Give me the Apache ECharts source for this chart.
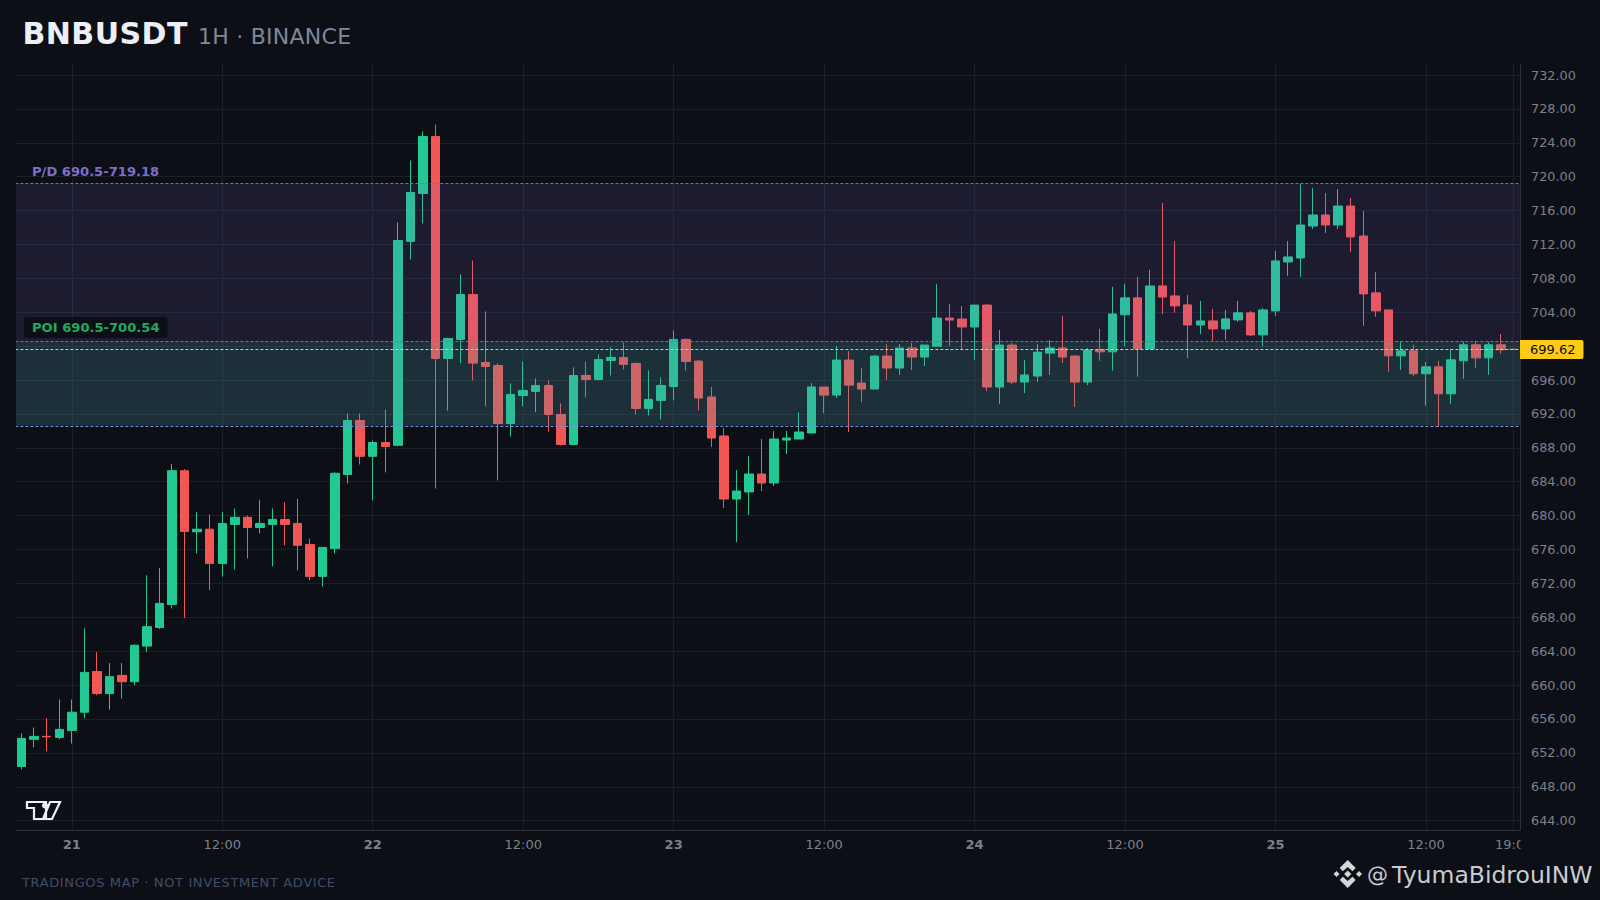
<!DOCTYPE html>
<html><head><meta charset="utf-8">
<style>
html,body{margin:0;padding:0;background:#0c0f16;}
#c{width:1600px;height:900px;}
text[fill="#eceff5"]{letter-spacing:0.45px;}
text[fill="#7f8899"]{letter-spacing:0.25px;}
text[fill="#434c68"]{letter-spacing:0.62px;}
</style>
<script src="https://cdn.jsdelivr.net/npm/echarts@6/dist/echarts.min.js"></script>
</head><body><div id="c"></div>
<script>
const opens=[650.4,653.6,653.95,653.83,654.65,656.8,661.6,659,661.15,660.4,664.6,666.8,669.5,685.3,678.1,678.4,674.36,678.96,679.8,678.6,678.96,679.55,679.08,676.6,672.83,676.13,684.86,691.23,687,688.63,688.3,712.36,718.02,724.75,698.55,700.8,706.1,698.08,697.72,690.88,694.18,694.65,695.36,691.94,688.4,696.54,696.07,698.31,698.67,697.96,692.65,693.6,695.24,700.8,698.24,694,689.4,681.96,682.8,684.91,683.85,688.92,689.04,689.75,695.18,694.23,698.36,695.65,694.94,698.83,697.42,699.78,698.72,700,703.32,703.2,702.26,704.85,695.18,700.13,695.77,696.47,699.18,699.78,698.83,695.77,699.57,699.33,703.7,705.7,699.68,707.11,705.93,704.87,702.5,702.98,702.04,703.1,703.93,701.33,704.16,709.94,710.41,714.18,715.48,714.3,716.54,713,706.29,704.28,698.86,699.45,696.74,697.56,694.38,698.27,700.16,698.62,700.16,699.63];
const closes=[653.7,653.95,653.9,654.77,656.8,661.5,659,661,660.4,664.7,666.9,669.64,685.3,678.14,678.4,674.36,679.08,679.8,678.6,679.08,679.55,678.96,676.5,672.83,676.25,685,691.23,687,688.63,688.16,712.47,718.14,724.75,698.55,700.91,706.1,698,697.6,690.88,694.3,694.77,695.36,691.94,688.4,696.54,696.07,698.43,698.67,697.84,692.65,693.71,695.36,700.8,698.2,693.88,689.16,681.96,682.9,684.91,683.85,689.04,689.16,689.87,695.18,694.23,698.36,695.4,694.94,698.83,697.42,699.78,698.72,700.13,703.32,703.08,702.26,704.85,695.18,700.13,695.77,696.6,699.3,699.78,698.72,695.77,699.54,699.33,703.8,705.7,699.68,707.11,705.8,704.75,702.5,702.98,702.04,703.22,703.93,701.33,704.28,710.06,710.53,714.3,715.48,714.3,716.54,712.89,706.17,704.16,698.86,699.45,696.74,697.56,694.38,698.39,700.16,698.62,700.16,699.57,699.62];
const lows=[650.05,652.65,652.2,653.6,653.1,656.1,658.8,657.1,658.4,660,663.9,666.6,669.05,667.9,675.54,671.2,672.8,673.65,674.95,677.9,674,676.5,673.54,672.35,671.65,675.54,683.8,686.04,681.8,685.1,688.16,710.23,714.48,683.2,692.4,698,695.95,692.9,684.15,689.34,692.9,692.2,689.93,688.28,688.28,693.95,695.95,696.54,697.25,691.94,691.82,691.35,693.6,697.13,692.42,688.1,680.9,676.88,680.07,682.9,683.5,687.27,689.04,689.75,692.1,693.88,689.87,693.4,694.94,696,696.6,697.18,697.65,700,700,699.66,698.36,694.7,693.17,695.53,694.47,695.77,696.6,698,692.82,695.4,698.27,697.1,700,696.38,699.68,703.8,703.93,698.6,701.45,700.63,700.75,702.87,701.2,700,703.58,708.3,708.17,713.83,713.36,713.83,711.12,702.4,703.46,696.97,697.2,696.5,692.97,690.5,693.2,696.15,697.45,696.62,699.1,699.55];
const highs=[654.3,655,656.1,658.3,658.3,666.7,663.9,662.6,662.6,664.8,672.95,673.8,686.1,685.5,680.4,680.14,680.4,680.85,680.03,681.87,680.85,681.56,682,677.3,676.25,685.1,692.06,692.06,688.87,692.53,714.6,721.92,725.34,726.16,701,708.46,710.1,704.1,697.96,695.6,698.2,696.2,695.95,693.24,697.5,698.2,699,699.85,700.44,698.08,697.13,696.3,701.85,700.9,698.3,695.18,690.34,685.38,687.03,689.04,690,690,692.2,695.65,695.18,700,699.42,697.42,698.95,700.25,700.25,700.37,700.13,707.33,704.97,704.73,704.85,704.97,701.9,700.37,698.36,700.25,700.72,703.55,698.95,699.78,702.04,707,707.35,708.17,709,716.9,712.4,706.05,705.34,704.4,704.28,705.34,704.16,704.5,711.24,712.4,719.14,718.66,718.07,718.55,717.49,715.95,708.76,704.28,700.51,700.16,698.15,698.27,699.68,700.51,700.63,700.51,701.45,699.65];
const tickLabels={4:'21',16:'12:00',28:'22',40:'12:00',52:'23',64:'12:00',76:'24',88:'12:00',100:'25',112:'12:00',119:'19:00'};
const categories=opens.map((_,i)=>String(i));
const candles=opens.map((o,i)=>[o,closes[i],lows[i],highs[i]]);
const pdZone=[690.6,719.18], poiZone=[690.6,700.54], lastPrice=699.62;
const BG='#0c0f16',UP='#22c993',DOWN='#f35653',GRID='#1b1f28',AXIS='#2c303a',TXT='#7b818d';
const line=(v,c,extra)=>Object.assign({yAxis:v,lineStyle:{color:c,width:1,type:[3,2],opacity:1},label:{show:false}},extra||{});
const chart=echarts.init(document.getElementById('c'),null,{renderer:'svg',width:1600,height:900});
const chev=(cx,cy,s)=>[[cx,cy-14*s],[cx+8,cy-6*s],[cx+4.8,cy-2.8*s],[cx,cy-7*s],[cx-4.8,cy-2.8*s],[cx-8,cy-6*s]];
const dia=(cx,cy,r)=>[[cx,cy-r],[cx+r,cy],[cx,cy+r],[cx-r,cy]];
const poly=(pts,fill,stroke,z)=>({type:'polygon',z:z||50,shape:{points:pts},style:stroke?{fill:'none',stroke:stroke,lineWidth:2.2}:{fill:fill}});
const txt=(t,x,y,font,fill,more)=>({type:'text',z:60,x:x,y:y,style:Object.assign({text:t,x:0,y:0,font:font,fill:fill,verticalAlign:'middle',align:'left'},more||{})});
const F='"DejaVu Sans"';
const showTick=(i)=>tickLabels[i]!==undefined;
chart.setOption({
 animation:false,backgroundColor:BG,
 grid:{left:15.4,top:41.12,width:1504.6,height:813.45,containLabel:false},
 xAxis:[
  {type:'category',data:categories,boundaryGap:true,axisLine:{show:false},axisTick:{show:false},axisLabel:{show:false},
   splitLine:{show:true,alignWithLabel:true,interval:showTick,lineStyle:{color:GRID,width:1}}},
  {type:'category',data:categories,boundaryGap:true,position:'bottom',offset:-24.57,z:10,
   axisLine:{show:true,lineStyle:{color:AXIS,width:1}},axisTick:{show:false},splitLine:{show:false},
   axisLabel:{interval:showTick,margin:8,color:TXT,fontFamily:'DejaVu Sans',fontSize:13,hideOverlap:false,
    formatter:(v,i)=>{const s=tickLabels[i]||'';return s.length===2?'{d|'+s+'}':s;},
    rich:{d:{fontWeight:'bold',color:TXT,fontFamily:'DejaVu Sans',fontSize:13}}}}],
 yAxis:{type:'value',position:'right',min:640,max:736,interval:4,
  axisLine:{show:true,lineStyle:{color:AXIS,width:1}},axisTick:{show:false},
  axisLabel:{color:TXT,fontFamily:'DejaVu Sans',fontSize:12.8,margin:11,showMinLabel:false,showMaxLabel:false,formatter:(v)=>v.toFixed(2)},
  splitLine:{show:true,showMinLine:false,showMaxLine:false,lineStyle:{color:GRID,width:1}}},
 series:[{type:'candlestick',data:candles,barWidth:9,z:2,xAxisIndex:0,
  itemStyle:{color:UP,color0:DOWN,borderColor:UP,borderColor0:DOWN,borderColorDoji:DOWN,borderWidth:1},
  markArea:{silent:true,z:5,data:[
   [{yAxis:pdZone[0],itemStyle:{color:'rgba(140,108,225,0.13)'}},{yAxis:pdZone[1]}],
   [{yAxis:poiZone[0],itemStyle:{color:'rgba(40,190,130,0.13)'}},{yAxis:poiZone[1]}]]},
  markLine:{silent:true,z:6,symbol:'none',precision:2,data:[
   line(pdZone[1],'#7b68d8'),line(poiZone[0],'#7f8fd6'),line(poiZone[1],'#2fa36f'),
   line(lastPrice,'#f5d33a',{label:{show:true,position:'end',distance:0,formatter:()=>lastPrice.toFixed(2),color:'#0c0f16',fontFamily:'DejaVu Sans',fontSize:13,backgroundColor:'#fccb15',padding:[3,8,3,10],borderRadius:[0,2,2,0]}})]}
 }],
 graphic:[
  {type:'rect',z:7,shape:{x:0,y:0,width:1600,height:63.5},style:{fill:BG}},
  {type:'rect',z:7,shape:{x:0,y:830.5,width:1600,height:30},style:{fill:BG}},
  {type:'rect',z:40,shape:{x:0,y:60,width:16,height:775},style:{fill:BG}},
  {type:'rect',z:40,shape:{x:1520.5,y:834,width:80,height:22},style:{fill:BG}},
  txt('BNBUSDT',22.5,33.5,'bold 30px '+F,'#eceff5'),
  txt('1H · BINANCE',198,36,'22px '+F,'#7f8899'),
  txt('P/D 690.5-719.18',32,171,'bold 13.1px '+F,'#7d6fc8'),
  txt('POI 690.5-700.54',24,327.5,'bold 13.1px '+F,'#22a860',{backgroundColor:'rgba(10,13,18,0.85)',padding:[4,8,4,8],borderRadius:3}),
  txt('TRADINGOS MAP · NOT INVESTMENT ADVICE',22,882,'13px '+F,'#434c68'),
  txt('@',1367,875,'21px '+F,'#c9ccd1'),
  txt('TyumaBidrouINW',1392,875,'23.5px '+F,'#c9ccd1'),
  poly(chev(1347.7,874,1),'#d3d5d8'),poly(chev(1347.7,874,-1),'#d3d5d8'),
  poly(dia(1336.5,874,3),'#d3d5d8'),poly(dia(1359,874,3),'#d3d5d8'),poly(dia(1347.7,874,3.6),'#d3d5d8'),
  poly([[27,802],[46,802],[46,819],[34,819],[34,808],[27,808]],null,'#eef0f5'),
  poly([[50,802],[60,802],[52,819],[43,819]],null,'#eef0f5'),
  {type:'circle',z:51,shape:{cx:45,cy:805.5,r:3},style:{fill:'#eef0f5'}}
 ]
});
</script></body></html>
